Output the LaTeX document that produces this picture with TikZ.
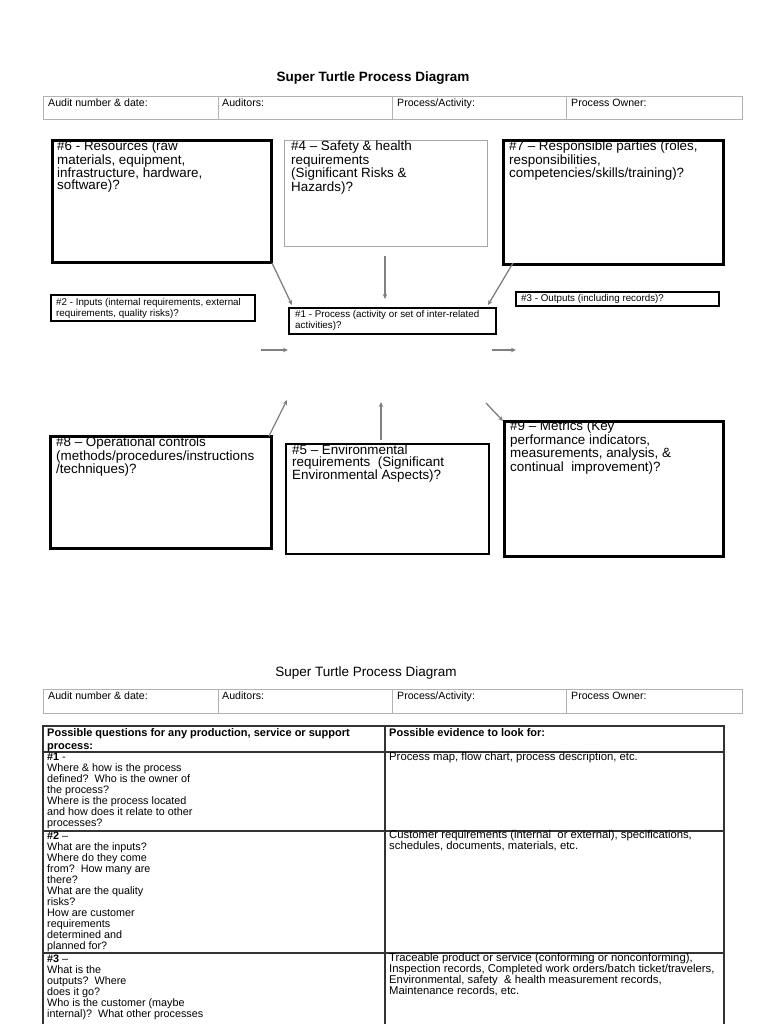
\documentclass[tikz,border=0pt]{standalone}
\usepackage{fontspec}
\setmainfont{Liberation Sans}
\usetikzlibrary{arrows.meta}
\begin{document}
\begin{tikzpicture}[x=1pt,y=-1pt,
  thickbox/.style={draw=black, line width=2.6pt, anchor=north west, inner sep=0pt},
  medbox/.style={draw=black, line width=1.8pt, anchor=north west, inner sep=0pt},
  thinbox/.style={draw=black!35, line width=0.8pt, anchor=north west, inner sep=0pt},
  bigtxt/.style={anchor=north west, inner sep=0pt, align=left, font=\fontsize{13.4}{11.5}\selectfont},
  smalltxt/.style={anchor=north west, inner sep=0pt, align=left, font=\fontsize{9.8}{11}\selectfont},
  hdrtxt/.style={anchor=north west, inner sep=0pt, font=\fontsize{10.6}{11}\selectfont},
  tabtxt/.style={anchor=north west, inner sep=0pt, align=left, font=\fontsize{10.8}{11}\selectfont},
  evtxt/.style={anchor=north west, inner sep=0pt, align=left, font=\fontsize{11.3}{11}\selectfont},
  boldhdr/.style={anchor=north west, inner sep=0pt, align=left, font=\bfseries\fontsize{11}{13.5}\selectfont},
  conn/.style={draw=black!50, line width=1.3pt, -{Stealth[length=5pt,width=4.5pt]}},
  hline/.style={draw=black!30, line width=0.9pt},
  tline/.style={draw=black!80, line width=1.1pt}
]
\useasboundingbox[fill=white] (0,0) rectangle (768,1024);

% ---------- upper page ----------
\node[anchor=center, font=\bfseries\fontsize{13.5}{14}\selectfont] (title1) at (373,78) {Super Turtle Process Diagram};

\node[draw=black!30, line width=0.9pt, anchor=north west, inner sep=0pt, minimum width=699pt, minimum height=23pt] (hdr1) at (43,96) {};
\draw[hline] (218,96) -- (218,119);
\draw[hline] (392,96) -- (392,119);
\draw[hline] (566,96) -- (566,119);
\node[hdrtxt] (h1a) at (48,99) {Audit number \& date:};
\node[hdrtxt] (h1b) at (222,99) {Auditors:};
\node[hdrtxt] (h1c) at (397,99) {Process/Activity:};
\node[hdrtxt] (h1d) at (571,99) {Process Owner:};

% boxes
\node[thickbox, minimum width=219pt, minimum height=122pt] (b6) at (51,139) {};
\node[bigtxt] (t6) at (57,141) {\#6 - Resources (raw\\materials, equipment,\\infrastructure, hardware,\\software)?};

\node[thinbox, minimum width=203pt, minimum height=106pt] (b4) at (284,140) {};
\node[bigtxt] (t4) at (291,141) {\#4 -- Safety \& health\\requirements\\(Significant Risks \&\\Hazards)?};

\node[thickbox, minimum width=220pt, minimum height=124pt] (b7) at (502,139) {};
\node[bigtxt] (t7) at (509,141) {\#7 -- Responsible parties (roles,\\responsibilities,\\competencies/skills/training)?};

\node[medbox, minimum width=204pt, minimum height=26pt] (b2) at (50,294) {};
\node[smalltxt] (t2) at (56,298) {\#2 - Inputs (internal requirements, external\\requirements, quality risks)?};

\node[medbox, minimum width=207pt, minimum height=26pt] (b1) at (288,307) {};
\node[smalltxt] (t1) at (295,310) {\#1 - Process (activity or set of inter-related\\activities)?};

\node[medbox, minimum width=203pt, minimum height=14pt] (b3) at (515,291) {};
\node[smalltxt] (t3) at (521,294) {\#3 - Outputs (including records)?};

\node[thickbox, minimum width=221pt, minimum height=112pt] (b8) at (49,435) {};
\node[bigtxt] (t8) at (56,437) {\#8 -- Operational controls\\(methods/procedures/instructions\\/techniques)?};

\node[medbox, minimum width=203pt, minimum height=110pt] (b5) at (285,443) {};
\node[bigtxt] (t5) at (292,445) {\#5 -- Environmental\\requirements\ \ (Significant\\Environmental Aspects)?};

\node[thickbox, minimum width=219pt, minimum height=135pt] (b9) at (503,420) {};
\node[bigtxt] (t9) at (510,421) {\#9 -- Metrics (Key\\performance indicators,\\measurements, analysis, \&\\continual\ \ improvement)?};

% arrows
\coordinate (a1s) at (272,263); \coordinate (a1e) at (292,305);
\coordinate (a2s) at (385,256); \coordinate (a2e) at (385,299);
\coordinate (a3s) at (513,263); \coordinate (a3e) at (488,305);
\coordinate (a4s) at (261,350); \coordinate (a4e) at (288,350);
\coordinate (a5s) at (492,350); \coordinate (a5e) at (516,350);
\coordinate (a6s) at (269,436); \coordinate (a6e) at (287,400);
\coordinate (a7s) at (381,440); \coordinate (a7e) at (381,402);
\coordinate (a8s) at (486,403); \coordinate (a8e) at (503,421);
\draw[conn] (a1s) -- (a1e);
\draw[conn] (a2s) -- (a2e);
\draw[conn] (a3s) -- (a3e);
\draw[conn] (a4s) -- (a4e);
\draw[conn] (a5s) -- (a5e);
\draw[conn] (a6s) -- (a6e);
\draw[conn] (a7s) -- (a7e);
\draw[conn] (a8s) -- (a8e);

% ---------- lower page ----------
\node[anchor=center, font=\fontsize{13.5}{14}\selectfont] (title2) at (366,673) {Super Turtle Process Diagram};

\node[draw=black!30, line width=0.9pt, anchor=north west, inner sep=0pt, minimum width=699pt, minimum height=24pt] (hdr2) at (43,689) {};
\draw[hline] (218,689) -- (218,713);
\draw[hline] (392,689) -- (392,713);
\draw[hline] (566,689) -- (566,713);
\node[hdrtxt] (h2a) at (48,692) {Audit number \& date:};
\node[hdrtxt] (h2b) at (222,692) {Auditors:};
\node[hdrtxt] (h2c) at (397,692) {Process/Activity:};
\node[hdrtxt] (h2d) at (571,692) {Process Owner:};

% main table
\draw[tline] (43,1026) -- (43,726) -- (724,726) -- (724,1026);
\draw[tline] (385,726) -- (385,1026);
\draw[tline] (43,752) -- (724,752);
\draw[tline] (43,831) -- (724,831);
\draw[tline] (43,953) -- (724,953);

\node[boldhdr] (q0) at (47,728) {Possible questions for any production, service or support\\process:};
\node[boldhdr] (e0) at (389,728) {Possible evidence to look for:};

\node[tabtxt] (q1) at (47,753) {\textbf{\#1} -\\Where \& how is the process\\defined?\ \ Who is the owner of\\the process?\\Where is the process located\\and how does it relate to other\\processes?};
\node[evtxt] (e1) at (389,752) {Process map, flow chart, process description, etc.};

\node[tabtxt] (q2) at (47,832) {\textbf{\#2} --\\What are the inputs?\\Where do they come\\from?\ \ How many are\\there?\\What are the quality\\risks?\\How are customer\\requirements\\determined and\\planned for?};
\node[evtxt] (e2) at (389,830) {Customer requirements (internal\ \ or external), specifications,\\schedules, documents, materials, etc.};

\node[tabtxt] (q3) at (47,955) {\textbf{\#3} --\\What is the\\outputs?\ \ Where\\does it go?\\Who is the customer (maybe\\internal)?\ \ What other processes};
\node[evtxt] (e3) at (389,953) {Traceable product or service (conforming or nonconforming),\\Inspection records, Completed work orders/batch ticket/travelers,\\Environmental, safety\ \ \& health measurement records,\\Maintenance records, etc.};
\end{tikzpicture}
\end{document}
